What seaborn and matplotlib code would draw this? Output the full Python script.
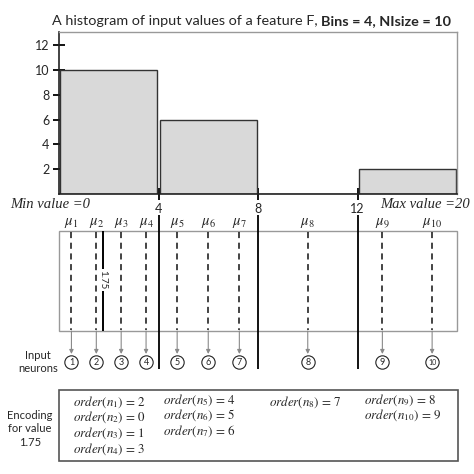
import matplotlib
matplotlib.use('Agg')
import matplotlib.pyplot as plt
import seaborn as sns
import numpy as np
import pandas as pd
from matplotlib.transforms import blended_transform_factory
from matplotlib.patches import Rectangle

# ---------------- data ----------------
bin_edges = [0, 4, 8, 12, 16]
bin_centers = [2, 6, 10, 14]
bin_counts = [10, 6, 0, 2]
y_ticks = [2, 4, 6, 8, 10, 12]
x_ticks = [4, 8, 12]
x_tick_labels = ['4', '8', '12']
neuron_ids = [1, 2, 3, 4, 5, 6, 7, 8, 9, 10]
neuron_means = [0.5, 1.5, 2.5, 3.5, 4.75, 6.0, 7.25, 10.0, 13.0, 15.0]
input_value = 1.75
order_values = [2, 0, 1, 3, 4, 5, 6, 7, 8, 9]
neuron_groups = [[1, 2, 3, 4], [5, 6, 7], [8], [9, 10]]
title_plain = 'A histogram of input values of a feature F,'
title_bold = 'Bins = 4, NIsize = 10'
min_label = 'Min value =0'
max_label = 'Max value =20'
left_label_1 = 'Input\nneurons'
left_label_2 = 'Encoding\nfor value\n1.75'

# ---------------- style ----------------
sns.set_style('white')
plt.rcParams['font.family'] = ['Lato', 'DejaVu Sans']
plt.rcParams['mathtext.fontset'] = 'stix'

W = H = 474
fig = plt.figure(figsize=(4.74, 4.74), dpi=100)

def px_axes(l, t, r, b):
    return [l / W, 1 - b / H, (r - l) / W, (b - t) / H]

# histogram
ax = fig.add_axes(px_axes(59, 32.3, 457, 194.3))
df = pd.DataFrame({'value': bin_centers, 'count': bin_counts})
sns.histplot(data=df, x='value', weights='count', bins=bin_edges, shrink=0.975,
             color='#d9d9d9', edgecolor='#333333', linewidth=1.0, alpha=1.0, ax=ax)
ax.set_xlim(0, 16)
ax.set_ylim(0, 13)
ax.set_xlabel('')
ax.set_ylabel('')
ax.set_yticks(y_ticks)
ax.set_yticklabels([str(v) for v in y_ticks])
ax.set_xticks(x_ticks)
ax.set_xticklabels(x_tick_labels)
ax.tick_params(axis='both', direction='inout', length=8.5, width=1.3, color='black',
               labelsize=9, pad=2.5, bottom=True, left=True)
ax.tick_params(axis='x', labelsize=9, pad=2)
for s in ['left', 'bottom']:
    ax.spines[s].set_color('#222222')
    ax.spines[s].set_linewidth(1.2)
for s in ['top', 'right']:
    ax.spines[s].set_color('#999999')
    ax.spines[s].set_linewidth(1.0)

# overlay axes in pixel coordinates
ov = fig.add_axes([0, 0, 1, 1])
ov.set_xlim(0, W)
ov.set_ylim(H, 0)
ov.axis('off')
ov.patch.set_alpha(0)
tr = blended_transform_factory(ax.transData, ov.transData)

# min / max labels
ov.text(10, 205, min_label, fontsize=10.5, style='italic', family='Liberation Serif',
        ha='left', va='center')
ov.text(470, 205, max_label, fontsize=10.5, style='italic', family='Liberation Serif',
        ha='right', va='center')

# middle box
ov.add_patch(Rectangle((59, 231), 398, 99.7, fill=False, edgecolor='#999999', lw=1.0))

# bin boundary lines
for xe in x_ticks:
    ov.plot([xe, xe], [215, 369], color='black', lw=1.3, transform=tr, solid_capstyle='butt')

# neuron dashed lines, labels, arrows, circles
for nid, m in zip(neuron_ids, neuron_means):
    ov.plot([m, m], [232, 330], color='#111111', lw=1.1, ls=(0, (4, 3)), transform=tr)
    ov.text(m, 223, r'$\mu_{%d}$' % nid, fontsize=10.5, ha='center', va='center', transform=tr)
    ov.annotate('', xy=(m, 354), xytext=(m, 331), xycoords=tr, textcoords=tr,
                arrowprops=dict(arrowstyle='-|>', color='#8a8a8a', lw=0.8,
                                mutation_scale=6, shrinkA=0, shrinkB=0))
    ov.plot([m], [362], marker='o', ms=9.6, mfc='white', mec='#222222', mew=0.8,
            ls='none', transform=tr)
    ov.text(m, 362.3, str(nid), fontsize=6.5 if nid < 10 else 5, ha='center', va='center',
            transform=tr)

# input value line
ov.plot([input_value, input_value], [231, 330.5], color='black', lw=1.4, transform=tr,
        solid_capstyle='butt')
ov.text(input_value, 280, '1.75', rotation=-90, fontsize=7, ha='center', va='center',
        transform=tr, bbox=dict(boxstyle='square,pad=0.1', fc='white', ec='none'))

# left labels
ov.text(38, 362, left_label_1, fontsize=8, ha='center', va='center', linespacing=1.3)
ov.text(30, 429, left_label_2, fontsize=8, ha='center', va='center', linespacing=1.3)

# encoding box
ov.add_patch(Rectangle((59, 390.3), 398.7, 70.7, fill=False, edgecolor='#555555', lw=1.2))
col_x = [72.7, 163, 268.7, 364.3]
col_top = [402, 400, 402.5, 400]
row_step = 15.6
for cx, ct, grp in zip(col_x, col_top, neuron_groups):
    for k, nid in enumerate(grp):
        ov.text(cx, ct + k * row_step,
                r'$order(n_{%d})\,=\,%d$' % (nid, order_values[nid - 1]),
                fontsize=9.4, ha='left', va='center')

# title (plain + bold)
t1 = ov.text(0, 21, title_plain + ' ', fontsize=10.4, ha='left', va='center')
t2 = ov.text(0, 21, title_bold, fontsize=10.4, weight='bold', ha='left', va='center')
fig.canvas.draw()
r = fig.canvas.get_renderer()
w1 = t1.get_window_extent(r).width
w2 = t2.get_window_extent(r).width
start = 251.5 - (w1 + w2) / 2
t1.set_x(start)
t2.set_x(start + w1)

fig.savefig('out.png', dpi=100)
